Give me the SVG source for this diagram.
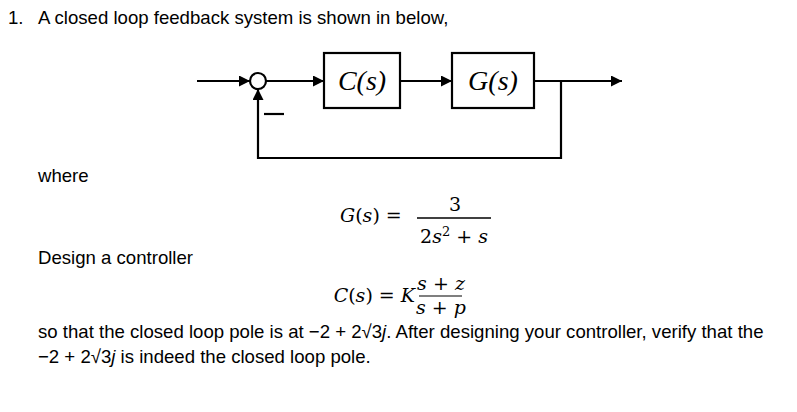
<svg xmlns="http://www.w3.org/2000/svg" width="797" height="412" viewBox="0 0 797 412">
<defs><style>
.t{font-family:"Liberation Sans",Arial,sans-serif;font-size:18.6px;fill:#000}
.m{font-family:"Liberation Serif",serif;font-size:28px;fill:#000}
.c{font-family:"DejaVu Serif","Liberation Serif",serif;font-size:19px;fill:#000}
.l{stroke:#000;stroke-width:2.2;fill:none}
</style>
<marker id="a" viewBox="0 0 10 10" refX="10" refY="5" markerWidth="5" markerHeight="5" orient="auto"><path d="M0,0L10,5L0,10z" fill="#000"/></marker></defs>
<rect width="797" height="412" fill="#fff"/>
<text class="t" x="8" y="24">1.</text><text class="t" x="38" y="24">A closed loop feedback system is shown in below,</text>
<g id="sum"><circle cx="258" cy="81" r="8" class="l" stroke-width="2.5"/><line x1="264" y1="114" x2="284" y2="114" class="l"/></g>
<g id="C"><rect x="324" y="53" width="76" height="55" class="l"/><text class="m" x="362" y="90" text-anchor="middle" font-style="italic">C(s)</text></g>
<g id="G"><rect x="452" y="53" width="82" height="55" class="l"/><text class="m" x="493" y="90" text-anchor="middle" font-style="italic">G(s)</text></g>
<g id="conn">
<line x1="197" y1="81" x2="250" y2="81" class="l" marker-end="url(#a)"/>
<line x1="266" y1="81" x2="324" y2="81" class="l" marker-end="url(#a)"/>
<line x1="400" y1="81" x2="452" y2="81" class="l" marker-end="url(#a)"/>
<line x1="534" y1="81" x2="622" y2="81" class="l" marker-end="url(#a)"/>
<polyline points="561,81 561,158 258,158 258,89" class="l" marker-end="url(#a)"/>
</g>
<text class="t" x="38" y="182">where</text>
<text class="c" x="340" y="222"><tspan font-style="italic">G</tspan>(<tspan font-style="italic">s</tspan>) =</text>
<text class="c" x="455" y="211" text-anchor="middle">3</text>
<line x1="417" y1="218" x2="491" y2="218" stroke="#000" stroke-width="1.3"/>
<text class="c" x="454" y="243" text-anchor="middle">2<tspan font-style="italic">s</tspan><tspan font-size="13" dy="-7">2</tspan><tspan dy="7"> + </tspan><tspan font-style="italic">s</tspan></text>
<text class="t" x="38" y="264">Design a controller</text>
<text class="c" x="415" y="302" font-size="15.5" text-anchor="end"><tspan font-style="italic">C</tspan>(<tspan font-style="italic">s</tspan>) = <tspan font-style="italic">K</tspan></text>
<text class="c" x="441" y="290" font-size="15" text-anchor="middle"><tspan font-style="italic">s</tspan> + <tspan font-style="italic">z</tspan></text>
<line x1="419" y1="296" x2="462" y2="296" stroke="#000" stroke-width="1.2"/>
<text class="c" x="441" y="314" font-size="15" text-anchor="middle"><tspan font-style="italic">s</tspan> + <tspan font-style="italic">p</tspan></text>
<text class="t" x="38" y="338">so that the closed loop pole is at −2 + 2√3<tspan font-style="italic">j</tspan>. After designing your controller, verify that the</text>
<text class="t" x="38" y="363">−2 + 2√3<tspan font-style="italic">j</tspan> is indeed the closed loop pole.</text>
</svg>
